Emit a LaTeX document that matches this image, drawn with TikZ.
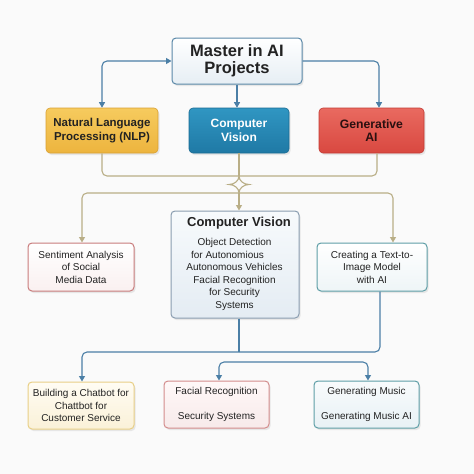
\documentclass[tikz,border=0pt]{standalone}
\usepackage{fontspec}
\setmainfont{Liberation Sans}
\usetikzlibrary{arrows.meta,shadows,calc}
\definecolor{bgc}{HTML}{FAFAFA}
\definecolor{txt}{HTML}{222222}
\definecolor{bline}{HTML}{4B7FA6}
\definecolor{tline}{HTML}{B9AE86}
\definecolor{mastb}{HTML}{5A88A8}
\definecolor{mastf}{HTML}{E6EEF4}
\definecolor{nlpb}{HTML}{D9A032}
\definecolor{nlpt}{HTML}{F6CB5E}
\definecolor{nlpf}{HTML}{EDB43E}
\definecolor{cvb}{HTML}{1A6A92}
\definecolor{cvt}{HTML}{3096C2}
\definecolor{cvf}{HTML}{1F79A5}
\definecolor{genb}{HTML}{C23A33}
\definecolor{gent}{HTML}{E96A60}
\definecolor{genf}{HTML}{D94840}
\definecolor{gentxt}{HTML}{2A1010}
\definecolor{cvdb}{HTML}{8A9DB0}
\definecolor{cvdt}{HTML}{F7FAFC}
\definecolor{cvdf}{HTML}{E4ECF3}
\definecolor{redb}{HTML}{C97C7C}
\definecolor{redf}{HTML}{FAF0F0}
\definecolor{tealb}{HTML}{5E9EA6}
\definecolor{tealf}{HTML}{EEF5F7}
\definecolor{yelb}{HTML}{E8CF86}
\definecolor{yelt}{HTML}{FFFCF3}
\definecolor{yelf}{HTML}{FAF1D8}
\definecolor{pinkb}{HTML}{D38C8C}
\definecolor{pinkt}{HTML}{FFF8F8}
\definecolor{pinkf}{HTML}{F7EAEA}
\definecolor{teal2t}{HTML}{F8FBFC}
\definecolor{teal2f}{HTML}{E8F1F5}
\begin{document}
\begin{tikzpicture}[x=1pt,y=-1pt,
  box/.style={rectangle, rounded corners=4pt, align=center, inner sep=0pt, text=txt,
    drop shadow={opacity=0.16, shadow xshift=1.5pt, shadow yshift=-2pt}},
  small/.style={font=\fontsize{10}{12.5}\selectfont},
  blueline/.style={draw=bline, line width=1.1pt, rounded corners=5pt},
  tanline/.style={draw=tline, line width=1.1pt, rounded corners=5pt},
  tip/.style={-{Triangle[width=6pt,length=5.5pt]}},
  bitip/.style={{Triangle[width=6pt,length=5.5pt]}-{Triangle[width=6pt,length=5.5pt]}}
]
\fill[bgc] (0,0) rectangle (474,474);
\useasboundingbox (0,0) rectangle (474,474);

% top level
\node[box, draw=mastb, line width=1pt, top color=white, bottom color=mastf,
  minimum width=130pt, minimum height=46pt,
  font=\fontsize{16.5}{17}\selectfont\bfseries] (master) at (237,61) {Master in AI\\Projects};

\node[box, draw=nlpb, line width=0.6pt, top color=nlpt, bottom color=nlpf,
  minimum width=112pt, minimum height=45pt,
  font=\fontsize{11.5}{14}\selectfont\bfseries] (nlp) at (102,130.5) {Natural Language\\Processing (NLP)};

\node[box, draw=cvb, line width=0.6pt, top color=cvt, bottom color=cvf,
  minimum width=100pt, minimum height=45pt, text=white,
  font=\fontsize{12}{13.5}\selectfont\bfseries] (cv) at (239,130.5) {Computer\\Vision};

\node[box, draw=genb, line width=0.6pt, top color=gent, bottom color=genf,
  minimum width=105pt, minimum height=45pt, text=gentxt,
  font=\fontsize{12.2}{13.5}\selectfont\bfseries] (gen) at (371.5,130.5) {Generative\\AI};

% middle level
\node[box, draw=cvdb, line width=1pt, top color=cvdt, bottom color=cvdf,
  minimum width=128pt, minimum height=107pt] (cvd) at (235,264.5) {};
\node[text=txt, font=\fontsize{13}{15}\selectfont\bfseries, inner sep=0pt] (cvdtitle) at (239,223) {Computer Vision};
\node[text=txt, align=center, inner sep=0pt, font=\fontsize{10}{12.6}\selectfont] (cvdbody) at (234.5,274.5)
  {Object Detection\\\hspace*{-14pt}for Autonomious\\Autonomous Vehicles\\Facial Recognition\\for Security\\Systems};

\node[box, draw=redb, line width=1pt, top color=white, bottom color=redf,
  minimum width=106pt, minimum height=48pt, small] (sent) at (81,267) {Sentiment Analysis\\of Social\\Media Data};

\node[box, draw=tealb, line width=1pt, top color=white, bottom color=tealf,
  minimum width=110pt, minimum height=48pt, small] (create) at (372,267) {Creating a Text-to-\\Image Model\\with AI};

% bottom level
\node[box, draw=yelb, line width=1pt, top color=yelt, bottom color=yelf,
  minimum width=106pt, minimum height=47pt, small] (chat) at (81,405.5) {Building a Chatbot for\\Chattbot for\\Customer Service};

\node[box, draw=pinkb, line width=1pt, top color=pinkt, bottom color=pinkf,
  minimum width=105pt, minimum height=47pt, font=\fontsize{10}{25}\selectfont] (facial) at (216.5,404.5) {Facial Recognition\\Security Systems};

\node[box, draw=tealb, line width=1pt, top color=teal2t, bottom color=teal2f,
  minimum width=105pt, minimum height=47pt, font=\fontsize{10}{25}\selectfont] (gener) at (366.5,404.5) {Generating Music\\Generating Music AI};

% top connectors
\draw[blueline, bitip] (master.west) -| (nlp.north);
\draw[blueline, tip] (master.east) -| ([xshift=7.5pt]gen.north);
\draw[blueline, tip] (master.south) -- (master.south |- cv.north);

% tan connectors with knot
\coordinate (kt) at (239,176);
\coordinate (kb) at (239,193);
\coordinate (kl) at (229,184.5);
\coordinate (kr) at (249,184.5);
\draw[tanline] (nlp.south) |- (kt);
\draw[tanline] ([xshift=5.5pt]gen.south) |- (kt);
\draw[tanline] (cv.south) -- (kt);
\draw[draw=tline, line width=1.1pt] (kt) .. controls (239,181) and (234,184.5) .. (kl)
  .. controls (234,184.5) and (239,188) .. (kb)
  .. controls (239,188) and (244,184.5) .. (kr)
  .. controls (244,184.5) and (239,181) .. (kt);
\draw[tanline, tip] (kb) -| ([xshift=1pt]sent.north);
\draw[tanline, tip] (kb) -| ([xshift=21pt]create.north);
\draw[tanline, tip] (kb) -- (kb |- cvd.north);

% bottom blue connectors
\coordinate (bj) at (239,352);
\draw[blueline] (bj |- cvd.south) -- (bj);
\draw[blueline, tip] (bj) -| ([xshift=1pt]chat.north);
\draw[blueline] (bj) -| ([xshift=8pt]create.south);
\coordinate (bb) at (293,362);
\draw[blueline, bitip] ([xshift=2.5pt]facial.north) |- (bb) -| ([xshift=1.5pt]gener.north);
\end{tikzpicture}
\end{document}
